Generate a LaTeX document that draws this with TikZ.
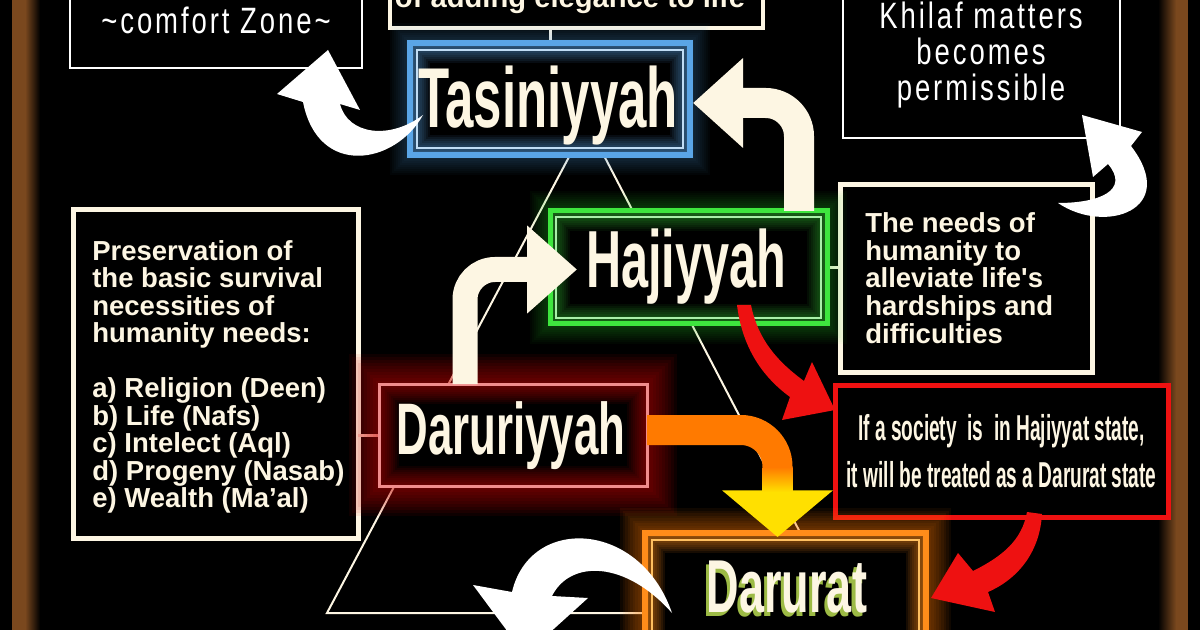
\documentclass[tikz,border=0pt]{standalone}
\usepackage{fontspec}
\setmainfont{Liberation Sans}
\newfontfamily\condfont[FakeStretch=0.6]{Liberation Sans}
\newfontfamily\narrowfont[FakeStretch=0.53]{Liberation Sans}
\newfontfamily\thinfont[FakeStretch=0.75,LetterSpace=8]{Liberation Sans}
\newfontfamily\boxfont{Liberation Sans}
\usetikzlibrary{arrows.meta,calc}
\definecolor{cream}{HTML}{FDF6E3}
\definecolor{brownC}{HTML}{7A481E}
\definecolor{tasblue}{HTML}{5AA5E6}
\definecolor{tasinner}{HTML}{C0DDF5}
\definecolor{hajgreen}{HTML}{3EE63E}
\definecolor{hajinner}{HTML}{A8F0A8}
\definecolor{darpink}{HTML}{F08C8C}
\definecolor{darred}{HTML}{C80000}
\definecolor{druorange}{HTML}{FF8C1A}
\definecolor{druinner}{HTML}{FFC060}
\definecolor{redA}{HTML}{EE1111}
\definecolor{orangeA}{HTML}{FF7A00}
\definecolor{yellowA}{HTML}{FFE000}
\definecolor{shadowG}{HTML}{9DBB45}
\newcommand\innerglow[4]{%
  \begin{scope}
  \clip (#1.north west) rectangle (#1.south east);
  \foreach \i in {1,...,10}{\draw[#2, draw opacity=#3, line width=\i*#4*0.6pt] (#1.north west) rectangle (#1.south east);}
  \end{scope}}
\newcommand\outerglow[4]{%
  \foreach \i in {1,...,10}{\draw[#2, draw opacity=#3, line width=\i*#4*0.6pt] (#1.north west) rectangle (#1.south east);}}
\begin{document}
\begin{tikzpicture}[x=0.6pt,y=-0.6pt]
\def\u{0.6pt}
\tikzset{
  frame/.style={inner sep=0pt, outer sep=0pt},
  plainbox/.style={draw=cream, line width=5*\u, fill=black, inner sep=0pt, outer sep=0pt},
  thinbox/.style={draw=white, line width=2.5*\u, fill=black, inner sep=0pt, outer sep=0pt},
  title/.style={text=cream, inner sep=0pt, anchor=base},
  link/.style={draw=cream, line width=3*\u},
  boxtext/.style={text=cream, inner sep=0pt, align=left, font=\boxfont\bfseries\fontsize{16.5}{16.5}\selectfont},
  thintext/.style={text=white, inner sep=0pt, font=\thinfont\fontsize{22}{21.6}\selectfont},
}
\useasboundingbox (0,0) rectangle (1200,630);
\clip (0,0) rectangle (1200,630);
\fill[black] (0,0) rectangle (1200,630);
% side frame
\fill[brownC] (12,0) rectangle (25,630);
\shade[left color=brownC, right color=black] (25,0) rectangle (40,630);
\shade[left color=black, right color=brownC] (1158,0) rectangle (1176,630);
\fill[brownC] (1176,0) rectangle (1188,630);
% triangle
\coordinate (apex) at (587,123);
\coordinate (tbl) at (327,613);
\coordinate (tbr) at (842,613);
\draw[cream, line width=2*\u] (apex) -- (tbl) -- (tbr) -- cycle;

% plain text boxes
\node[thinbox, minimum width=292*\u, minimum height=168*\u] (comfort) at (216,-16) {};
\node[thintext, anchor=base] (comforttext) at (216,34) {\textasciitilde comfort Zone\textasciitilde};
\node[plainbox, line width=4*\u, minimum width=373*\u, minimum height=128*\u] (topbox) at (576.5,-36) {};
\node[title, font=\boxfont\bfseries\fontsize{17.5}{18}\selectfont] (toptext) at (570,8) {of adding elegance to life};
\node[thinbox, minimum width=277*\u, minimum height=238*\u] (khilaf) at (981.5,19) {};
\node[thintext, align=center] (khilaftext) at (981,55) {Khilaf matters\\becomes\\permissible};
\node[plainbox, minimum width=285*\u, minimum height=328*\u] (leftbox) at (215.5,374) {};
\node[boxtext, anchor=north west] (lefttext) at (92,240)
 {Preservation of\\the basic survival\\necessities of\\humanity needs:\\[16.5pt]a) Religion (Deen)\\b) Life (Nafs)\\c) Intelect (Aql)\\d) Progeny (Nasab)\\e) Wealth (Ma’al)};
\node[plainbox, minimum width=252*\u, minimum height=187*\u] (rightbox) at (966,278.5) {};
\node[boxtext, font=\boxfont\bfseries\fontsize{16.5}{16.7}\selectfont, anchor=north west] (righttext) at (865,212)
 {The needs of\\humanity to\\alleviate life's\\hardships and\\difficulties};
\node[draw=redA, line width=5*\u, fill=black, minimum width=333*\u, minimum height=132*\u, inner sep=0pt, outer sep=0pt, align=center, text=cream, font=\narrowfont\bfseries\fontsize{21.6}{28.2}\selectfont] (redbox) at (1001.5,451)
 {If a society~~is~~in Hajiyyat state,\\it will be treated as a Darurat state};

% title boxes
\node[frame, minimum width=280*\u, minimum height=112*\u] (tas) at (550,99) {};
\node[frame, minimum width=277*\u, minimum height=113*\u] (haj) at (688.5,267.5) {};
\node[frame, minimum width=268*\u, minimum height=102*\u] (dar) at (513,435) {};
\node[frame, minimum width=281*\u, minimum height=167*\u] (dru) at (785.5,616.5) {};

% connector lines
\draw[link] (topbox.south -| tas.north) -- (tas.north);
\draw[link] (haj.east) -- (haj.east -| rightbox.west);
\draw[link, draw=cream!85!red] (dar.west -| leftbox.east) -- (dar.west);

% Tasiniyyah
\outerglow{tas}{tasblue}{0.03}{4}
\fill[black] (tas.north west) rectangle (tas.south east);
\innerglow{tas}{tasblue}{0.08}{4}
\draw[tasblue, line width=6*\u] (tas.north west) rectangle (tas.south east);
\draw[tasinner, line width=2.5*\u] ($(tas.north west)+(7,7)$) rectangle ($(tas.south east)+(-7,-7)$);
% Hajiyyah
\outerglow{haj}{hajgreen}{0.03}{4}
\fill[black] (haj.north west) rectangle (haj.south east);
\innerglow{haj}{hajgreen}{0.06}{4}
\draw[hajgreen, line width=5*\u] (haj.north west) rectangle (haj.south east);
\draw[hajinner, line width=2.5*\u] ($(haj.north west)+(6,6)$) rectangle ($(haj.south east)+(-6,-6)$);
% Daruriyyah
\outerglow{dar}{darred}{0.07}{6}
\fill[black] (dar.north west) rectangle (dar.south east);
\innerglow{dar}{darred}{0.07}{4}
\draw[darpink, line width=3*\u] (dar.north west) rectangle (dar.south east);
% Darurat
\outerglow{dru}{orangeA}{0.06}{5}
\fill[black] (dru.north west) rectangle (dru.south east);
\innerglow{dru}{druorange}{0.09}{4}
\draw[druorange, line width=6*\u] (dru.north west) rectangle (dru.south east);
\draw[druinner, line width=2.5*\u] ($(dru.north west)+(7,7)$) rectangle ($(dru.south east)+(-7,-7)$);

% cream bent arrows
\draw[cream, line width=15pt, rounded corners=18pt, -{Triangle[length=30pt,width=51pt]}]
  ($(dar.north west)+(86,0)$) |- ($(haj.west)+(27,2)$);
\draw[cream, line width=18pt, rounded corners=20pt, -{Triangle[length=30pt,width=52pt]}]
  ($(haj.north east)+(-28,0)$) |- ($(tas.east)+(3,4)$);
% orange bent arrow
\draw[orangeA, line width=18pt, rounded corners=22pt, -{Triangle[length=28pt,width=65pt,color=yellowA]}]
  ($(dar.east)+(0,-5)$) -| ($(dru.north)+(-8,4)$);
\shade[top color=orangeA, bottom color=yellowA] (762.5,467) rectangle (792.5,492);

% white curved arrows
\fill[white] (423,115) .. controls (395,165) and (318,178) .. (303,102) -- (277,94) -- (328,50) -- (360,110) -- (340,104)
  .. controls (348,135) and (390,140) .. (423,115) -- cycle;
\fill[white] (1058,203) .. controls (1105,235) and (1180,210) .. (1131,146) -- (1142,132) -- (1082,115) -- (1093,177) -- (1108,164)
  .. controls (1130,190) and (1100,203) .. (1058,203) -- cycle;
\fill[white] (672,613) .. controls (640,520) and (530,515) .. (512,592) -- (473,585) -- (525,655) -- (588,598) -- (552,596)
  .. controls (570,560) and (625,560) .. (672,613) -- cycle;
% red curved arrows
\fill[redA] (737,305) .. controls (742,345) and (760,375) .. (790,397) -- (782,420) -- (835,410) -- (812,362) -- (804,381)
  .. controls (778,362) and (758,340) .. (751,305) -- cycle;
\fill[redA] (1027,512) -- (1042,514) .. controls (1040,550) and (1020,578) .. (988,592) -- (995,612) -- (931,598) -- (958,553) -- (973,571)
  .. controls (1003,556) and (1022,540) .. (1027,512) -- cycle;

% titles
\node[title, font=\condfont\bfseries\fontsize{51}{53}\selectfont] (tastext) at (548,128) {Tasiniyyah};
\node[title, font=\condfont\bfseries\fontsize{48.6}{50}\selectfont] (hajtext) at (686,288) {Hajiyyah};
\node[title, font=\condfont\bfseries\fontsize{43.8}{46}\selectfont] (dartext) at (511,454) {Daruriyyah};
\node[title, font=\condfont\bfseries\fontsize{45}{47}\selectfont] (drutext) at (787,612)
  {\makebox[0pt][l]{\hspace*{-2pt}\raisebox{-2.4pt}{\color{shadowG}Darurat}}Darurat};
\end{tikzpicture}
\end{document}
